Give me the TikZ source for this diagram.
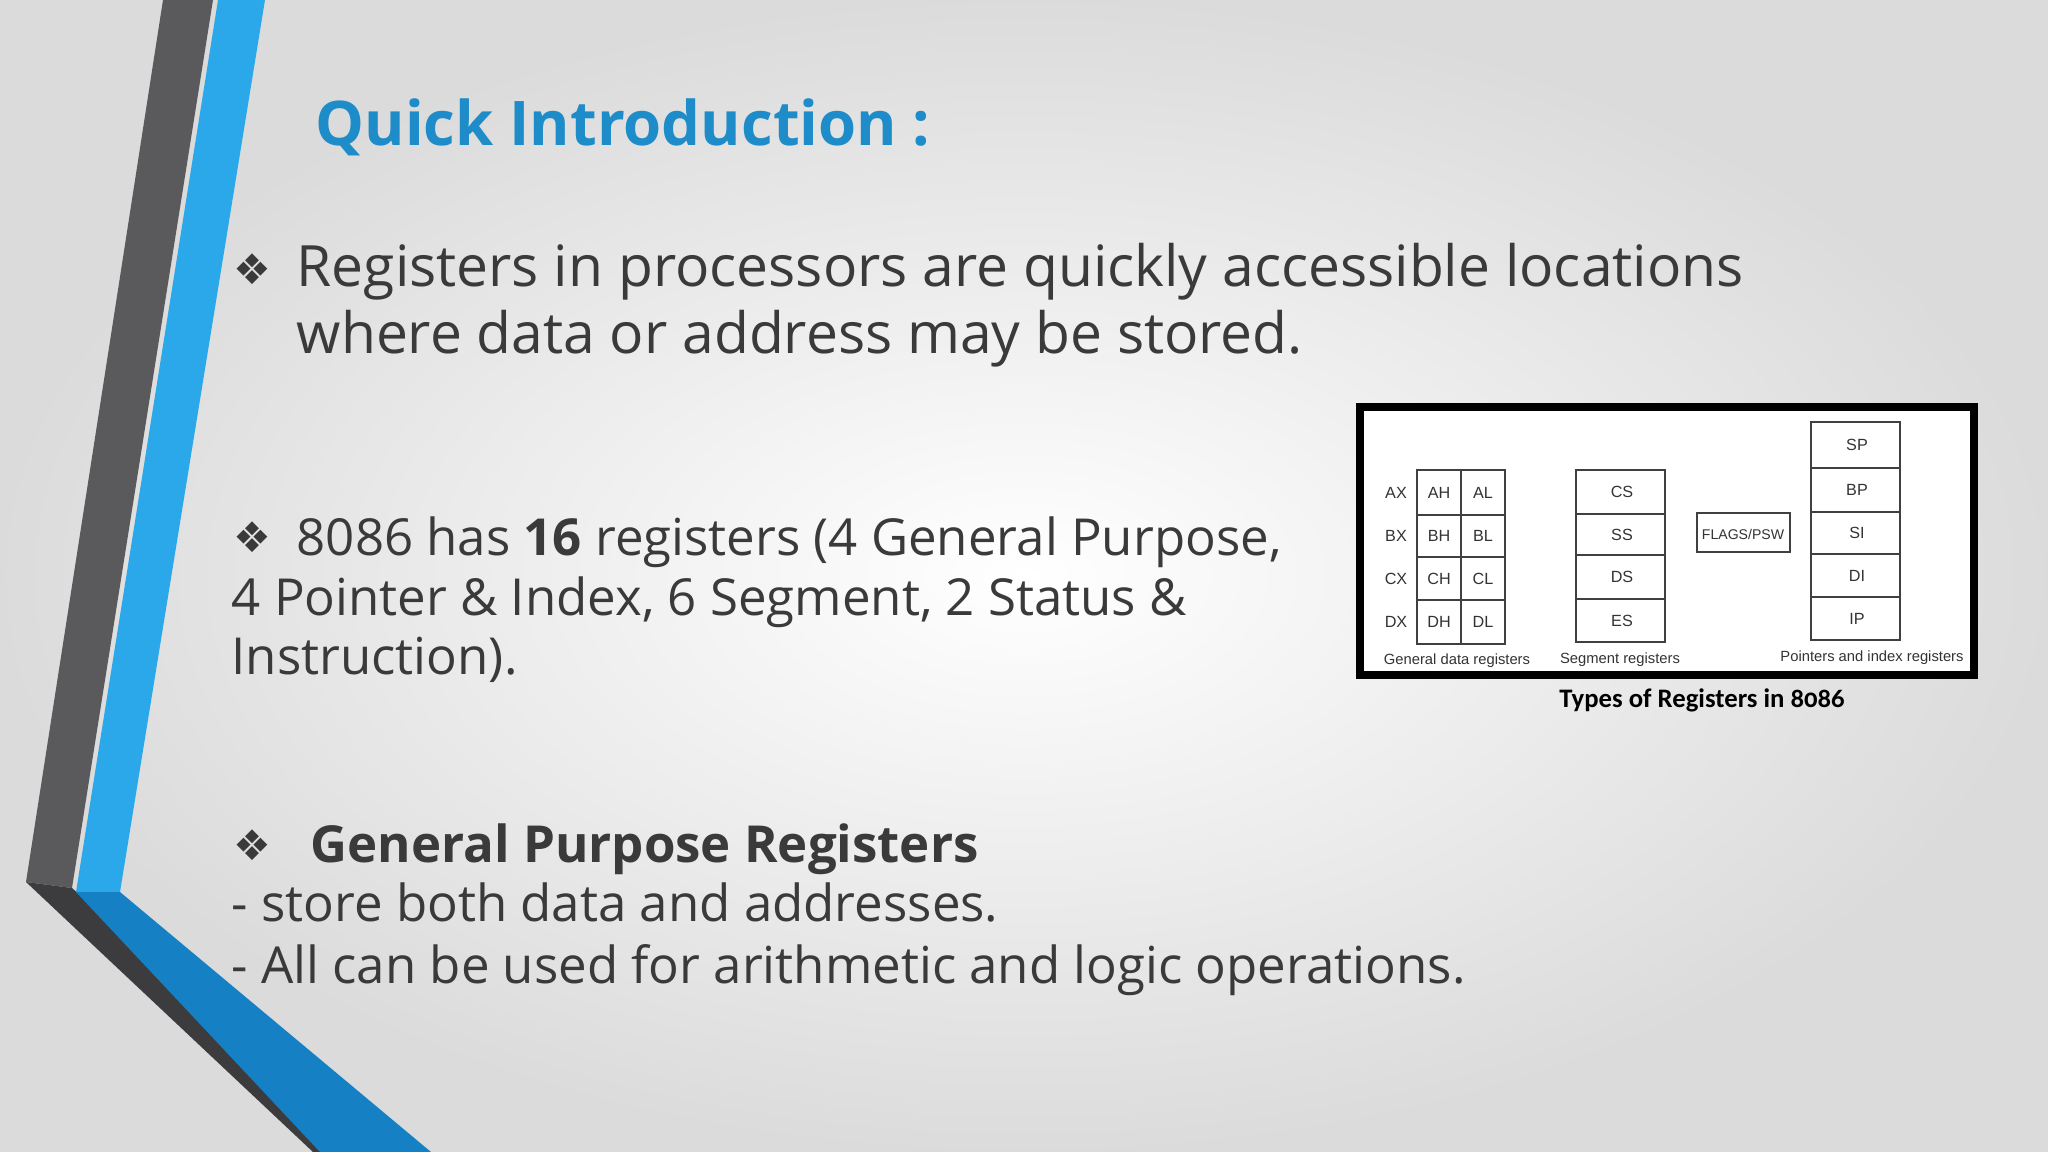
\documentclass[tikz,border=0pt]{standalone}
\usepackage{fontspec}
\setmainfont{Open Sans}
\newfontfamily\symf{DejaVu Sans}
\newfontfamily\regf{Liberation Sans}
\newfontfamily\capf[Numbers=OldStyle]{Carlito}
\definecolor{txt}{HTML}{3A3A3A}
\definecolor{ttl}{HTML}{1D8CC9}
\definecolor{blueA}{HTML}{2BA8EA}
\definecolor{blueB}{HTML}{1580C4}
\definecolor{grayA}{HTML}{5A5A5C}
\definecolor{grayB}{HTML}{3C3C3E}
\tikzset{
 body/.style={anchor=base west,inner sep=0pt,text=txt,font=\fontsize{14.5}{17}\selectfont},
 bodyl/.style={anchor=base west,inner sep=0pt,text=txt,font=\fontsize{16.2}{19}\selectfont},
 bul/.style={anchor=base west,inner sep=0pt,text=txt,font=\symf\fontsize{12}{15}\selectfont},
 cell/.style={draw=black!75,line width=0.5pt,fill=white},
 rl/.style={inner sep=0pt,font=\regf\fontsize{4.6}{5}\selectfont,text=black!80},
 rc/.style={inner sep=0pt,font=\regf\fontsize{4.2}{5}\selectfont,text=black!80},
}
\begin{document}
\begin{tikzpicture}[x=0.01cm,y=-0.01cm]
\useasboundingbox (0,0) rectangle (2048,1152);
\shade[inner color=white,outer color=black!14] (0,0) rectangle (2048,1152);
% left decoration
\fill[grayA] (163,0) -- (213,0) -- (72,888) -- (26,882) -- cycle;
\fill[grayB] (26,882) -- (72,888) -- (372,1152) -- (313,1152) -- cycle;
\fill[blueA] (218,0) -- (265,0) -- (120,892) -- (76,892) -- cycle;
\fill[blueB] (76,892) -- (120,892) -- (431,1152) -- (320,1152) -- cycle;
% title
\node[anchor=base west,inner sep=0pt,text=ttl,font=\bfseries\fontsize{17.5}{20}\selectfont] (title) at (315,146) {Quick Introduction :};
% bullet 1
\node[bul] (b1) at (233,285) {❖};
\node[bodyl] (t1a) at (296,287) {Registers in processors are quickly accessible locations};
\node[bodyl] (t1b) at (296,354) {where data or address may be stored.};
% bullet 2
\node[bul] (b2) at (233,553) {❖};
\node[body] (t2a) at (296,555) {8086 has \textbf{16} registers (4 General Purpose,};
\node[body] (t2b) at (231,616) {4 Pointer \& Index, 6 Segment, 2 Status \&};
\node[body] (t2c) at (231,675) {Instruction).};
% bullet 3
\node[bul] (b3) at (233,860) {❖};
\node[body,font=\bfseries\fontsize{14.5}{17}\selectfont] (t3a) at (310,862) {General Purpose Registers};
\node[body] (t3b) at (231,921) {- store both data and addresses.};
\node[body] (t3c) at (231,983) {- All can be used for arithmetic and logic operations.};
% register figure
\draw[line width=2.2pt,fill=white] (1360,407) rectangle (1974,675);
\foreach \ya/\yb/\l/\h/\lo in {470/515/AX/AH/AL,515/557/BX/BH/BL,557/600/CX/CH/CL,600/644/DX/DH/DL}{
  \draw[cell] (1417,\ya) rectangle (1461,\yb);
  \draw[cell] (1461,\ya) rectangle (1505,\yb);
  \node[rl] at (1396,{(\ya+\yb)/2}) {\l};
  \node[rl] at (1439,{(\ya+\yb)/2}) {\h};
  \node[rl] at (1483,{(\ya+\yb)/2}) {\lo};
}
\foreach \ya/\yb/\l in {470/514/CS,514/555/SS,555/599/DS,599/642/ES}{
  \draw[cell] (1576,\ya) rectangle (1665,\yb);
  \node[rl] at (1622,{(\ya+\yb)/2}) {\l};
}
\draw[cell] (1697,513) rectangle (1790,552);
\node[rl,font=\regf\fontsize{4}{5}\selectfont] (flags) at (1743,534) {FLAGS/PSW};
\foreach \ya/\yb/\l in {422/468/SP,468/512/BP,512/554/SI,554/597/DI,597/640/IP}{
  \draw[cell] (1811,\ya) rectangle (1900,\yb);
  \node[rl] at (1857,{(\ya+\yb)/2}) {\l};
}
\node[rc] (c1) at (1457,661) {General data registers};
\node[rc] (c2) at (1620,660) {Segment registers};
\node[rc] (c3) at (1872,658) {Pointers and index registers};
\node[inner sep=0pt,font=\capf\bfseries\fontsize{7.6}{8}\selectfont] (cap) at (1702,700) {Types of Registers in 8086};
\end{tikzpicture}
\end{document}
